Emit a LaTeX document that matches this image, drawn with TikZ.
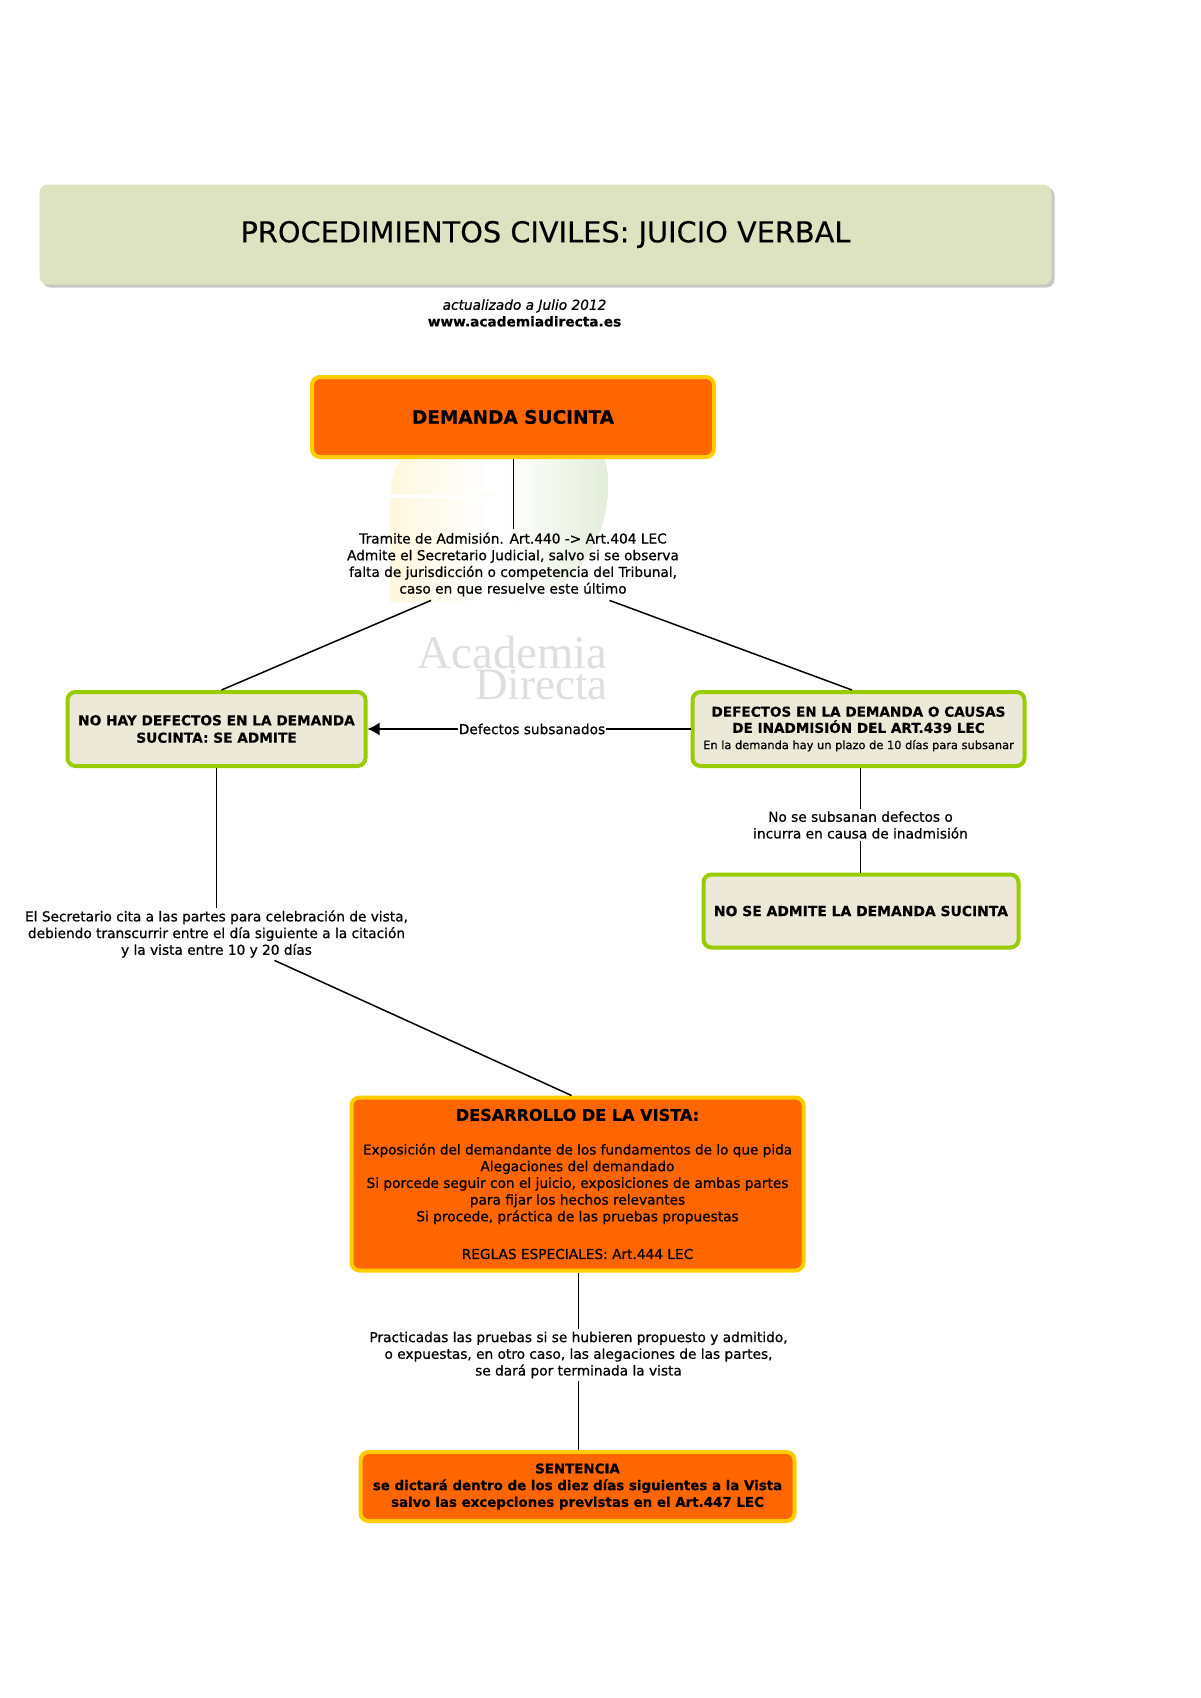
\documentclass[tikz,border=0pt]{standalone}
\usepackage{fontspec}
\setmainfont{DejaVu Sans}[UprightFeatures={FakeBold=0.7},ItalicFeatures={FakeBold=0.7},BoldFeatures={FakeBold=0.5}]
\newfontfamily\wmfont{Liberation Serif}
\newfontfamily\titlefont{DejaVu Sans}[FakeBold=0.3]
\usetikzlibrary{calc,arrows.meta,shadows}
\definecolor{titlefill}{HTML}{DDE2C1}
\definecolor{orangefill}{HTML}{FF6600}
\definecolor{orangeline}{HTML}{FFCC00}
\definecolor{greenfill}{HTML}{ECE9D8}
\definecolor{greenline}{HTML}{99CC00}
\definecolor{wmyellow}{HTML}{FFF8E0}
\definecolor{wmgreen}{HTML}{E5EEDB}
\tikzset{
    txt/.style={font=\fontsize{6.85}{8.35}\selectfont,align=center,inner sep=0pt},
    labeltxt/.style={txt,minimum width=150pt},
    wmtxt/.style={font=\wmfont\fontsize{23.4}{24}\selectfont,text=black!13,anchor=base east,inner sep=0pt},
    orangebox/.style={txt,draw=orangeline,fill=orangefill,line width=2pt,rounded corners=4pt},
    greenbox/.style={txt,draw=greenline,fill=greenfill,line width=2pt,rounded corners=4pt},
    titlebox/.style={fill=titlefill,rounded corners=4pt,inner sep=0pt,
        drop shadow={shadow xshift=1.5pt,shadow yshift=-1.5pt,fill=black!22,opacity=1}},
    conn/.style={line width=0.75pt},
    thinconn/.style={line width=0.5pt}
}
\begin{document}
\begin{tikzpicture}[x=0.5pt,y=-0.5pt]
    \useasboundingbox (0,0) rectangle (1200,1698);
    % watermark
    \begin{scope}
        \clip (390,494) .. controls (392,475) and (396,465) .. (402,459) -- (495,459) -- (495,494) -- cycle
            (390,498) rectangle (495,602);
        \foreach \s in {0,...,20}
            \fill[wmyellow!\the\numexpr100-5*\s\relax!white] ({390+5*\s},459) rectangle (495,602);
    \end{scope}
    \begin{scope}
        \clip (502,459) -- (604,459) .. controls (618,500) and (596,600) .. (502,602) -- cycle;
        \foreach \s in {0,...,20}
            \fill[wmgreen!\the\numexpr5*\s\relax!white] ({502+5*\s},459) rectangle (612,602);
    \end{scope}
    \node[wmtxt] (wmone) at (608,668) {Academia};
    \node[wmtxt,font=\wmfont\fontsize{22.5}{24}\selectfont] (wmtwo) at (608,699) {Directa};

    % title
    \node[titlebox,minimum width=506pt,minimum height=50pt,font=\titlefont\fontsize{14.4}{16}\selectfont] (titulo) at (545.5,234.5) {PROCEDIMIENTOS CIVILES: JUICIO VERBAL};
    \node[txt] (fecha) at (524.5,313) {\itshape actualizado a Julio 2012\\\bfseries\upshape www.academiadirecta.es};

    % boxes
    \node[orangebox,minimum width=201pt,minimum height=40pt,font=\fontsize{9.25}{10}\bfseries\selectfont] (demanda) at (513,417) {DEMANDA SUCINTA};
    \node[greenbox,minimum width=149pt,minimum height=37pt,font=\fontsize{6.85}{8.7}\bfseries\selectfont] (nohay) at (216.5,729) {NO HAY DEFECTOS EN LA DEMANDA\\SUCINTA: SE ADMITE};
    \node[greenbox,minimum width=166pt,minimum height=37pt,font=\fontsize{6.8}{8.1}\bfseries\selectfont] (defectos) at (858.5,729) {DEFECTOS EN LA DEMANDA O CAUSAS\\DE INADMISIÓN DEL ART.439 LEC\\\fontsize{5.7}{8.1}\mdseries\selectfont En la demanda hay un plazo de 10 días para subsanar};
    \node[greenbox,minimum width=157.5pt,minimum height=36.5pt,font=\fontsize{6.95}{8.7}\bfseries\selectfont] (noadmite) at (861,911) {NO SE ADMITE LA DEMANDA SUCINTA};
    \node[orangebox,minimum width=226pt,minimum height=86.5pt] (desarrollo) at (577.5,1184) {\fontsize{8.05}{8.35}\bfseries\selectfont DESARROLLO DE LA VISTA:\\[8.5pt]\fontsize{6.8}{8.35}\mdseries\selectfont Exposición del demandante de los fundamentos de lo que pida\\Alegaciones del demandado\\Si porcede seguir con el juicio, exposiciones de ambas partes\\para fijar los hechos relevantes\\Si procede, práctica de las pruebas propuestas\\[10.5pt]REGLAS ESPECIALES: Art.444 LEC};
    \node[orangebox,minimum width=217pt,minimum height=34.5pt,font=\fontsize{6.7}{8.35}\bfseries\selectfont] (sentencia) at (577.5,1486.5) {SENTENCIA\\se dictará dentro de los diez días siguientes a la Vista\\salvo las excepciones previstas en el Art.447 LEC};

    % labels
    \node[labeltxt,minimum height=35.5pt] (tramite) at (513,564.5) {Tramite de Admisión. Art.440 -> Art.404 LEC\\Admite el Secretario Judicial, salvo si se observa\\falta de jurisdicción o competencia del Tribunal,\\caso en que resuelve este último};
    \node[txt,minimum width=74pt] (subsanados) at (532,729) {Defectos subsanados};
    \node[labeltxt,minimum height=15.5pt] (nosubsana) at (860.5,825) {No se subsanan defectos o\\incurra en causa de inadmisión};
    \node[labeltxt,minimum height=26pt] (secretario) at (216.5,934) {El Secretario cita a las partes para celebración de vista,\\debiendo transcurrir entre el día siguiente a la citación\\y la vista entre 10 y 20 días};
    \node[labeltxt,minimum height=26pt] (practicadas) at (578.5,1355) {Practicadas las pruebas si se hubieren propuesto y admitido,\\o expuestas, en otro caso, las alegaciones de las partes,\\se dará por terminada la vista};

    % connectors
    \draw[thinconn] (demanda) -- (tramite);
    \draw[conn] ($(tramite.south)+(-82,0)$) -- ($(nohay.north)+(5,0)$);
    \draw[conn] ($(tramite.south)+(96.5,0)$) -- ($(defectos.north)+(-6.5,0)$);
    \draw[conn] (defectos) -- (subsanados);
    \draw[conn,-{Latex[length=6pt,width=6.5pt]}] (subsanados) -- (nohay);
    \draw[thinconn] (nohay) -- (secretario);
    \draw[conn] ($(secretario.south)+(58,0)$) -- ($(desarrollo.north)+(-6,0)$);
    \draw[conn] (defectos.south -| nosubsana) -- (nosubsana);
    \draw[thinconn] (nosubsana) -- (noadmite.north -| nosubsana);
    \draw[conn] (desarrollo.south -| practicadas) -- (practicadas);
    \draw[conn] (practicadas) -- (sentencia.north -| practicadas);
\end{tikzpicture}
\end{document}
